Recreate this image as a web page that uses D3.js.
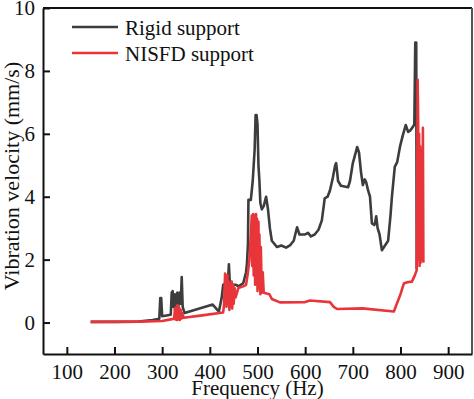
<!DOCTYPE html>
<html>
<head>
<meta charset="utf-8">
<script src="https://cdn.jsdelivr.net/npm/d3@7"></script>
<style>
  body { margin: 0; background: #fff; }
  text { font-family: "Liberation Serif", "Times New Roman", serif; }
</style>
</head>
<body>
<svg id="chart" width="474" height="399"></svg>
<script>
// Rigid support: [frequency Hz, velocity mm/s]
const rigidFreq = [150, 200, 250, 280, 294, 296, 298, 300, 318, 320, 322, 323, 325, 327, 330, 332, 334, 337, 339, 341, 343, 347,
  406, 419, 425, 428, 438, 440, 442, 455, 460, 470, 476, 478, 480, 481, 486, 490, 494, 496, 498, 500, 502, 504, 506, 509,
  513, 518, 522, 526, 530, 541, 550, 560, 568, 576, 583, 588, 600, 606, 612, 620, 628, 635, 641, 647, 652, 658, 663, 665,
  667, 669, 675, 690, 694, 700, 706, 709, 711, 713, 717, 721, 725, 728, 732, 736, 740, 745, 747, 749, 752, 756, 761, 774,
  779, 782, 788, 793, 799, 805, 811, 816, 820, 826, 829, 831, 833, 834];
const rigidVel = [0.02, 0.02, 0.03, 0.08, 0.12, 0.78, 0.78, 0.2, 0.25, 0.95, 1.0, 0.5, 0.9, 0.4, 0.9, 0.95, 0.5, 0.95, 0.6, 1.45, 0.5, 0.3,
  0.57, 0.35, 0.8, 1.2, 1.3, 1.85, 1.2, 1.2, 1.15, 1.25, 1.6, 1.9, 2.5, 3.9, 3.9, 4.5, 5.5, 6.6, 6.6, 6.3, 5.0, 4.5, 3.8, 3.6,
  3.7, 4.0, 3.6, 3.0, 2.6, 2.4, 2.45, 2.38, 2.45, 2.6, 3.03, 2.8, 2.8, 2.85, 2.74, 2.8, 2.95, 3.25, 3.95, 4.0, 4.2, 4.6, 5.0, 5.07,
  4.8, 4.5, 4.35, 4.3, 4.5, 5.07, 5.4, 5.58, 5.5, 5.4, 4.8, 4.37, 4.55, 4.46, 4.2, 4.0, 3.15, 3.1, 3.2, 3.38, 3.0, 2.8, 2.3, 2.6,
  3.4, 4.0, 4.95, 5.1, 5.6, 5.96, 6.28, 6.06, 6.1, 6.22, 6.3, 8.9, 8.9, 1.7];

// NISFD support
const nisfdFreq = [150, 250, 300, 318, 325, 327, 328, 330, 331, 333, 334, 336, 337, 339, 340, 342, 345, 380, 428, 430, 432, 434,
  435, 437, 438, 440, 441, 443, 444, 446, 447, 449, 450, 452, 454, 460, 470, 476, 480, 483, 486, 488, 489, 491, 492, 494, 495,
  497, 498, 499, 500, 502, 503, 504, 506, 507, 509, 511, 513, 525, 530, 547, 600, 610, 652, 660, 667, 720, 786, 800, 807, 814,
  824, 830, 834, 835, 836, 837, 838, 839, 840, 841, 842, 843, 844, 845, 846, 847, 848];
const nisfdVel = [0.02, 0.03, 0.05, 0.1, 0.12, 0.45, 0.1, 0.5, 0.08, 0.55, 0.1, 0.45, 0.08, 0.4, 0.12, 0.3, 0.15, 0.22, 0.32, 0.6, 1.56, 1.4,
  0.5, 1.5, 0.6, 1.3, 0.4, 1.2, 0.5, 1.3, 0.45, 1.2, 0.6, 1.1, 0.8, 1.1, 1.15, 1.2, 1.6, 2.0, 2.8, 3.4, 1.8, 3.45, 1.5, 3.4, 1.2,
  3.45, 1.3, 3.3, 1.0, 3.2, 1.1, 2.8, 0.9, 2.4, 0.95, 1.6, 0.95, 0.9, 0.75, 0.64, 0.65, 0.7, 0.65, 0.5, 0.43, 0.45, 0.35, 0.9, 1.24, 1.28,
  1.3, 1.5, 1.66, 4.0, 7.72, 6.5, 2.0, 6.0, 1.8, 5.6, 1.9, 5.3, 2.0, 5.5, 3.0, 6.19, 1.9];

const xTicks = [100, 200, 300, 400, 500, 600, 700, 800, 900];
const yTicks = [0, 2, 4, 6, 8, 10];
const seriesNames = ["Rigid support", "NISFD support"];
const seriesColors = ["#3d3d3d", "#e8353a"];

const svg = d3.select('#chart');
const margin = { top: 8, right: 2, bottom: 45, left: 43 };
const width = +svg.attr('width');
const height = +svg.attr('height');
const innerWidth = width - margin.left - margin.right;
const innerHeight = height - margin.top - margin.bottom;

const g = svg.append('g')
  .attr('transform', `translate(${margin.left},${margin.top})`);

const xScale = d3.scaleLinear().domain([50, 950]).range([0, innerWidth]);
const yScale = d3.scaleLinear().domain([-1, 10]).range([innerHeight, 0]);

const line = d3.line()
  .x(d => xScale(d[0]))
  .y(d => yScale(d[1]));

const series = [
  d3.zip(rigidFreq, rigidVel),
  d3.zip(nisfdFreq, nisfdVel)
];

series.forEach((data, i) => {
  g.append('path')
    .datum(data)
    .attr('fill', 'none')
    .attr('stroke', seriesColors[i])
    .attr('stroke-width', 2.6)
    .attr('stroke-linejoin', 'round')
    .attr('d', line);
});

// frame top / right
g.append('line')
  .attr('x1', 0).attr('x2', innerWidth).attr('y1', 0).attr('y2', 0)
  .attr('stroke', '#111').attr('stroke-width', 2);
g.append('line')
  .attr('x1', innerWidth).attr('x2', innerWidth).attr('y1', 0).attr('y2', innerHeight)
  .attr('stroke', '#555').attr('stroke-width', 2);

const xAxis = d3.axisBottom(xScale)
  .tickValues(xTicks)
  .tickSizeInner(-7)
  .tickSizeOuter(0)
  .tickPadding(10);

const yAxis = d3.axisLeft(yScale)
  .tickValues(yTicks)
  .tickSizeInner(-7)
  .tickSizeOuter(0)
  .tickPadding(8);

const xAxisG = g.append('g')
  .attr('transform', `translate(0,${innerHeight})`)
  .call(xAxis);
const yAxisG = g.append('g').call(yAxis);

[xAxisG, yAxisG].forEach(a => {
  a.select('.domain').attr('stroke', '#111').attr('stroke-width', 2);
  a.selectAll('.tick line').attr('stroke', '#111').attr('stroke-width', 2);
  a.selectAll('.tick text')
    .attr('fill', '#111')
    .style('font-size', '21px')
    .style('font-family', '"Liberation Serif", "Times New Roman", serif');
});

g.append('text')
  .attr('x', innerWidth / 2)
  .attr('y', innerHeight + 41)
  .attr('text-anchor', 'middle')
  .style('font-size', '21px')
  .attr('fill', '#111')
  .text('Frequency (Hz)');

g.append('text')
  .attr('transform', 'rotate(-90)')
  .attr('x', -innerHeight / 2 + 5)
  .attr('y', -24)
  .attr('text-anchor', 'middle')
  .style('font-size', '22px')
  .attr('fill', '#111')
  .text('Vibration velocity (mm/s)');

// legend
const legendG = svg.append('g').attr('transform', 'translate(72,27)');
seriesNames.forEach((name, i) => {
  const row = legendG.append('g').attr('transform', `translate(0,${i * 26})`);
  row.append('line')
    .attr('x1', 0).attr('x2', 46).attr('y1', 0).attr('y2', 0)
    .attr('stroke', seriesColors[i]).attr('stroke-width', 2.6);
  row.append('text')
    .attr('x', 53).attr('y', 7.5)
    .style('font-size', '21px')
    .attr('fill', '#111')
    .text(name);
});
</script>
</body>
</html>
